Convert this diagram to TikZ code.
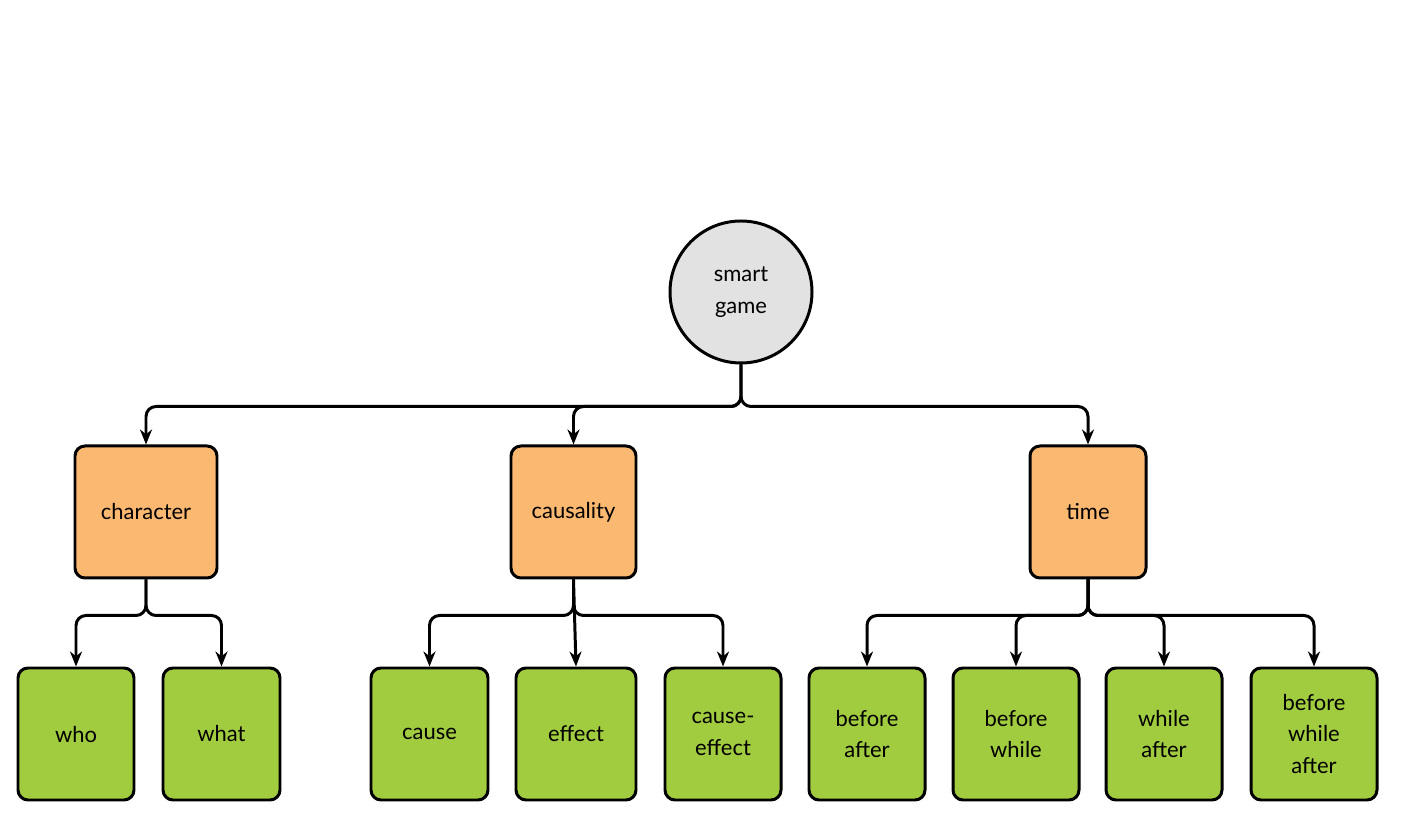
\documentclass[tikz,border=0pt]{standalone}
\usepackage{fontspec}
\setmainfont{Lato}
\usepackage{tikz}
\usetikzlibrary{positioning, arrows.meta}
\definecolor{boxorange}{HTML}{FBB871}
\definecolor{boxgreen}{HTML}{A2CC40}
\definecolor{rootgray}{HTML}{E2E2E2}
\tikzset{
    box/.style={draw=black, line width=1.7pt, rounded corners=0.2cm, minimum height=2.64cm, align=center, font=\fontsize{12.5}{18}\selectfont},
    topic/.style={box, fill=boxorange},
    leaf/.style={box, fill=boxgreen},
    conn/.style={line width=1.7pt, rounded corners=0.2cm, -{Stealth[length=0.3cm,width=0.24cm]}},
}

\begin{document}
\begin{tikzpicture}
                \useasboundingbox (0,0) rectangle (28.16,16.54);

                \node[circle, draw=black, line width=1.7pt, fill=rootgray, minimum size=2.84cm, align=center, font=\fontsize{12.5}{18}\selectfont] (root) at (14.82,10.7) {smart\\game};

                \node[topic, minimum width=2.84cm] (char) at (2.92,6.3) {character};
                \node[topic, minimum width=2.5cm] (caus) at (11.47,6.3) {causality};
                \node[topic, minimum width=2.32cm] (time) at (21.76,6.3) {time};

                \node[leaf, minimum width=2.32cm] (who) at (1.52,1.86) {who};
                \node[leaf, minimum width=2.34cm] (what) at (4.43,1.86) {what};
                \node[leaf, minimum width=2.34cm] (cause) at (8.59,1.86) {cause};
                \node[leaf, minimum width=2.4cm] (effect) at (11.52,1.86) {effect};
                \node[leaf, minimum width=2.32cm] (ceff) at (14.46,1.86) {cause-\\effect};
                \node[leaf, minimum width=2.32cm] (ba) at (17.34,1.86) {before\\after};
                \node[leaf, minimum width=2.52cm] (bw) at (20.32,1.86) {before\\while};
                \node[leaf, minimum width=2.32cm] (wa) at (23.28,1.86) {while\\after};
                \node[leaf, minimum width=2.52cm] (bwa) at (26.28,1.86) {before\\while\\after};

                \foreach \t in {char, caus, time}
                    \draw[conn] (root.south) -- ++(0,-0.84) -| (\t.north);
                \foreach \t in {who, what}
                    \draw[conn] (char.south) -- ++(0,-0.72) -| (\t.north);
                \foreach \t in {cause, ceff}
                    \draw[conn] (caus.south) -- ++(0,-0.72) -| (\t.north);
                \draw[conn] (caus.south) -- (effect.north);
                \foreach \t in {ba, bw, wa, bwa}
                    \draw[conn] (time.south) -- ++(0,-0.72) -| (\t.north);
            \end{tikzpicture}
\end{document}
